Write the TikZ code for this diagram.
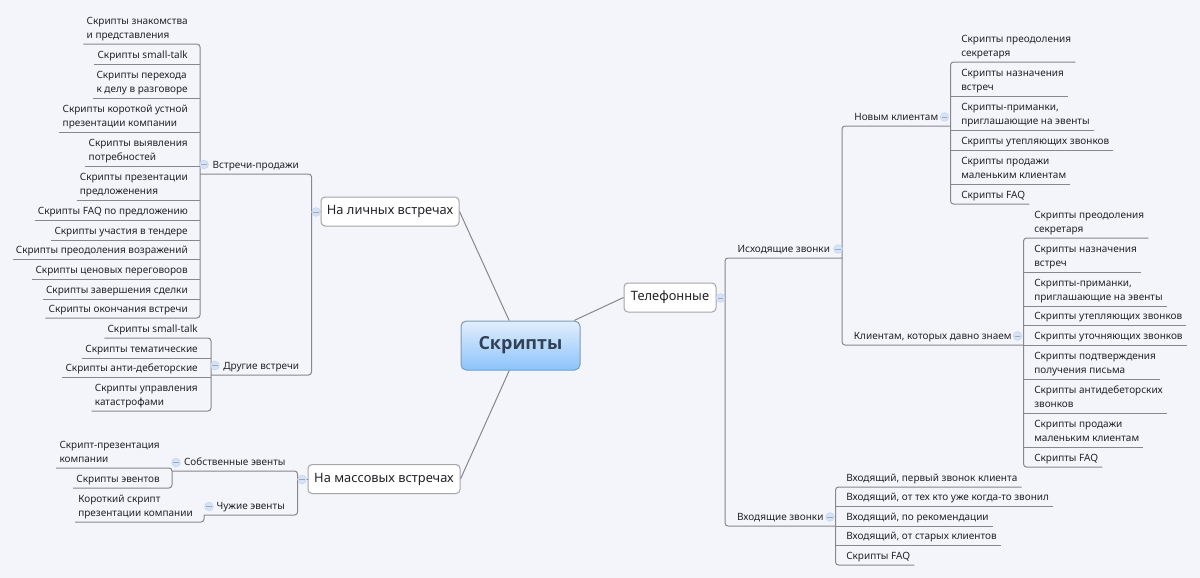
\documentclass[tikz,border=0pt]{standalone}
\usepackage{fontspec}
\setmainfont{Noto Sans}
\newfontfamily\rootfont{Open Sans}
\definecolor{pagebg}{RGB}{243,245,250}
\definecolor{linecol}{RGB}{135,135,140}
\definecolor{inkcol}{RGB}{35,35,40}
\definecolor{boxcol}{RGB}{165,165,170}
\definecolor{rootline}{RGB}{125,155,185}
\definecolor{roottop}{RGB}{226,238,252}
\definecolor{rootbot}{RGB}{140,195,252}
\definecolor{rootink}{RGB}{50,65,85}
\definecolor{foldfill}{RGB}{214,227,246}
\definecolor{foldline}{RGB}{195,212,240}
\tikzset{
  link/.style={linecol, line width=0.75pt, rounded corners=2.25pt},
  rootbox/.style={draw=rootline, line width=0.75pt, rounded corners=4pt, top color=roottop, bottom color=rootbot, text=rootink, minimum width=89.25pt, minimum height=36.75pt, font=\rootfont\fontsize{13.5}{16}\selectfont\bfseries},
  topicbox/.style={draw=boxcol, fill=white, line width=0.75pt, rounded corners=3pt, text=inkcol, minimum height=21.75pt, inner xsep=0pt, font=\fontsize{9.65}{12}\selectfont},
  group/.style={text=inkcol, inner xsep=0pt, inner ysep=1pt, minimum width=#1*0.75pt, font=\fontsize{7.5}{10.5}\selectfont, execute at end node=\strut},
  leafl/.style={anchor=south east, align=left, text=inkcol, inner xsep=2.25pt, inner ysep=1pt, font=\fontsize{7.5}{10.5}\selectfont, execute at end node=\strut},
  leafr/.style={anchor=south west, align=left, text=inkcol, inner xsep=3pt, inner ysep=1pt, font=\fontsize{7.5}{10.5}\selectfont, execute at end node=\strut},
  fold/.style={circle, draw=foldline, fill=foldfill, line width=0.4pt, minimum size=6.5pt, inner sep=0pt,
    path picture={\draw[foldline!80!black, line width=0.4pt] ([xshift=1.3pt]path picture bounding box.west) -- ([xshift=-1.3pt]path picture bounding box.east);}}
}
\begin{document}
\begin{tikzpicture}[x=0.75pt,y=-0.75pt]
\fill[pagebg] (0,0) rectangle (1200,578);
\useasboundingbox (0,0) rectangle (1200,578);

\node[rootbox] (root) at (520.5,345.5) {Скрипты};
\node[topicbox, minimum width=103.5pt] (lich) at (390,211.5) {На личных встречах};
\node[topicbox, minimum width=114pt] (mass) at (384,479) {На массовых встречах};
\node[topicbox, minimum width=69pt] (tel) at (670,297.5) {Телефонные};

\node[group=111, anchor=south west] (vprod) at (200,174) {Встречи-продажи};
\node[group=100, anchor=south west] (vdrug) at (211,375) {Другие встречи};
\node[group=125, anchor=south west] (sobst) at (172,471) {Собственные эвенты};
\node[group=93, anchor=south west] (chuzh) at (204,515) {Чужие эвенты};
\node[group=117, anchor=south west] (ishod) at (725,258) {Исходящие звонки};
\node[group=110, anchor=south west] (vhod) at (725,526) {Входящие звонки};
\node[group=108, anchor=south west] (novym) at (842,126) {Новым клиентам};
\node[group=181, anchor=south west] (davno) at (842,345) {Клиентам, которых давно знаем};

\node[leafl] (vp1) at (191,44) {Скрипты знакомства\\и представления};
\node[leafl] (vp2) at (191,64.5) {Скрипты small-talk};
\node[leafl] (vp3) at (191,98.5) {Скрипты перехода\\к делу в разговоре};
\node[leafl] (vp4) at (191,132) {Скрипты короткой устной\\презентации компании};
\node[leafl] (vp5) at (191,166) {Скрипты выявления\\потребностей};
\node[leafl] (vp6) at (191,200) {Скрипты презентации\\предложенения};
\node[leafl] (vp7) at (191,220) {Скрипты FAQ по предложению};
\node[leafl] (vp8) at (191,240) {Скрипты участия в тендере};
\node[leafl] (vp9) at (191,259) {Скрипты преодоления возражений};
\node[leafl] (vp10) at (191,279) {Скрипты ценовых переговоров};
\node[leafl] (vp11) at (191,299) {Скрипты завершения сделки};
\node[leafl] (vp12) at (191,318) {Скрипты окончания встречи};

\node[leafl] (vd1) at (201,338) {Скрипты small-talk};
\node[leafl] (vd2) at (201,358) {Скрипты тематические};
\node[leafl] (vd3) at (201,377) {Скрипты анти-дебеторские};
\node[leafl] (vd4) at (201,411) {Скрипты управления\\катастрофами};

\node[leafl] (sb1) at (163,468) {Скрипт-презентация\\компании};
\node[leafl] (sb2) at (163,488) {Скрипты эвентов};
\node[leafl] (ch1) at (196,522) {Короткий скрипт\\презентации компании};

\node[leafr] (nv1) at (957,62) {Скрипты преодоления\\секретаря};
\node[leafr] (nv2) at (957,96) {Скрипты назначения\\встреч};
\node[leafr] (nv3) at (957,130) {Скрипты-приманки,\\приглашающие на эвенты};
\node[leafr] (nv4) at (957,150) {Скрипты утепляющих звонков};
\node[leafr] (nv5) at (957,184) {Скрипты продажи\\маленьким клиентам};
\node[leafr] (nv6) at (957,204) {Скрипты FAQ};

\node[leafr] (dv1) at (1030,238) {Скрипты преодоления\\секретаря};
\node[leafr] (dv2) at (1030,272) {Скрипты назначения\\встреч};
\node[leafr] (dv3) at (1030,306) {Скрипты-приманки,\\приглашающие на эвенты};
\node[leafr] (dv4) at (1030,325) {Скрипты утепляющих звонков};
\node[leafr] (dv5) at (1030,345) {Скрипты уточняющих звонков};
\node[leafr] (dv6) at (1030,379) {Скрипты подтверждения\\получения письма};
\node[leafr] (dv7) at (1030,413) {Скрипты антидебеторских\\звонков};
\node[leafr] (dv8) at (1030,447) {Скрипты продажи\\маленьким клиентам};
\node[leafr] (dv9) at (1030,467) {Скрипты FAQ};

\node[leafr] (vh1) at (842,487) {Входящий, первый звонок клиента};
\node[leafr] (vh2) at (842,506) {Входящий, от тех кто уже когда-то звонил};
\node[leafr] (vh3) at (842,526) {Входящий, по рекомендации};
\node[leafr] (vh4) at (842,545) {Входящий, от старых клиентов};
\node[leafr] (vh5) at (842,565) {Скрипты FAQ};

\draw[link] (lich.east) -- (root);
\draw[link] (mass.east) -- (root);
\draw[link] (tel.west) -- (root);

\draw[link] (vprod.south west) -- (vprod.south east) -- (vdrug.south east) -- (vdrug.south west);
\draw[link] (lich.west) -- (lich.west -| vprod.south east);
\draw[link] (sobst.south west) -- (sobst.south east) -- (chuzh.south east) -- (chuzh.south west);
\draw[link] (mass.west) -- (mass.west -| sobst.south east);
\draw[link] (ishod.south east) -- (ishod.south west) -- (vhod.south west) -- (vhod.south east);
\draw[link] (tel.east) -- (tel.east -| ishod.south west);
\draw[link] (novym.south east) -- (novym.south west) -- (davno.south west) -- (davno.south east);

\draw[link] (vp1.south west) -- (vp1.south -| vprod.south west) -- (vp12.south -| vprod.south west) -- (vp12.south west);
\draw[link] (vp2.south west) -- (vp2.south -| vprod.south west);
\draw[link] (vp3.south west) -- (vp3.south -| vprod.south west);
\draw[link] (vp4.south west) -- (vp4.south -| vprod.south west);
\draw[link] (vp5.south west) -- (vp5.south -| vprod.south west);
\draw[link] (vp6.south west) -- (vp6.south -| vprod.south west);
\draw[link] (vp7.south west) -- (vp7.south -| vprod.south west);
\draw[link] (vp8.south west) -- (vp8.south -| vprod.south west);
\draw[link] (vp9.south west) -- (vp9.south -| vprod.south west);
\draw[link] (vp10.south west) -- (vp10.south -| vprod.south west);
\draw[link] (vp11.south west) -- (vp11.south -| vprod.south west);

\draw[link] (vd1.south west) -- (vd1.south -| vdrug.south west) -- (vd4.south -| vdrug.south west) -- (vd4.south west);
\draw[link] (vd2.south west) -- (vd2.south -| vdrug.south west);
\draw[link] (vd3.south west) -- (vd3.south -| vdrug.south west);

\draw[link] (sb1.south west) -- (sb1.south -| sobst.south west) -- (sb2.south -| sobst.south west) -- (sb2.south west);
\draw[link] (chuzh.south west) -- (ch1.south -| chuzh.south west) -- (ch1.south west);

\draw[link] (nv1.south east) -- (nv1.south -| novym.south east) -- (nv6.south -| novym.south east) -- (nv6.south east);
\draw[link] (nv2.south east) -- (nv2.south -| novym.south east);
\draw[link] (nv3.south east) -- (nv3.south -| novym.south east);
\draw[link] (nv4.south east) -- (nv4.south -| novym.south east);
\draw[link] (nv5.south east) -- (nv5.south -| novym.south east);

\draw[link] (dv1.south east) -- (dv1.south -| davno.south east) -- (dv9.south -| davno.south east) -- (dv9.south east);
\draw[link] (dv2.south east) -- (dv2.south -| davno.south east);
\draw[link] (dv3.south east) -- (dv3.south -| davno.south east);
\draw[link] (dv4.south east) -- (dv4.south -| davno.south east);
\draw[link] (dv5.south east) -- (dv5.south -| davno.south east);
\draw[link] (dv6.south east) -- (dv6.south -| davno.south east);
\draw[link] (dv7.south east) -- (dv7.south -| davno.south east);
\draw[link] (dv8.south east) -- (dv8.south -| davno.south east);

\draw[link] (vh1.south east) -- (vh1.south -| vhod.south east) -- (vh5.south -| vhod.south east) -- (vh5.south east);
\draw[link] (vh2.south east) -- (vh2.south -| vhod.south east);
\draw[link] (vh3.south east) -- (vh3.south -| vhod.south east);
\draw[link] (vh4.south east) -- (vh4.south -| vhod.south east);

\node[fold] (fvprod) at (204,164.5) {};
\node[fold] (fvdrug) at (215,365.5) {};
\node[fold] (flich) at (316,212) {};
\node[fold] (fsobst) at (176,462.5) {};
\node[fold] (fchuzh) at (209,506.5) {};
\node[fold] (fmass) at (302,479.5) {};
\node[fold] (ftel) at (720.5,298) {};
\node[fold] (fishod) at (838,249) {};
\node[fold] (fnovym) at (944.5,117) {};
\node[fold] (fdavno) at (1017.5,336) {};
\node[fold] (fvhod) at (830,517) {};
\end{tikzpicture}
\end{document}
